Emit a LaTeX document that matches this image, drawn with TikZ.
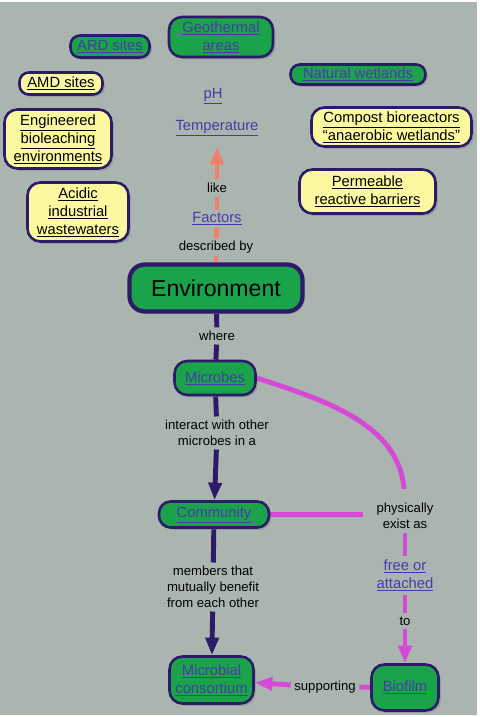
\documentclass[tikz,border=0pt]{standalone}
\usepackage{fontspec}
\setmainfont{Liberation Sans}
\usetikzlibrary{arrows.meta,shadows}
\pgfdeclarelayer{bg}
\pgfsetlayers{bg,main}
\definecolor{canvas}{RGB}{170,181,176}
\definecolor{leaf}{RGB}{26,163,74}
\definecolor{ink}{RGB}{43,27,105}
\definecolor{lemon}{RGB}{252,248,160}
\definecolor{linkblue}{RGB}{72,58,170}
\definecolor{orchid}{RGB}{214,72,214}
\definecolor{salmon}{RGB}{240,128,110}
\newcommand{\lnk}[1]{\underline{#1}}
\tikzset{
    every node/.style={font=\fontsize{12.6}{15.3}\selectfont, align=center}
}
\tikzset{
    box/.style={draw=ink, line width=2.2pt, rounded corners=11pt, inner sep=1pt,
        drop shadow={shadow xshift=2pt, shadow yshift=-2pt, opacity=.4}},
    pill/.style={rounded corners=8pt},
    gbox/.style={box, fill=leaf, text=linkblue},
    ybox/.style={box, fill=lemon, text=black},
    link/.style={text=linkblue},
    lbl/.style={font=\fontsize{11.2}{13.6}\selectfont, inner sep=3pt},
    navyline/.style={draw=ink, line width=4.2pt},
    pinkline/.style={draw=orchid, line width=4.2pt},
    salmonline/.style={draw=salmon, line width=4.2pt},
    headed/.style={-{Triangle[length=15pt,width=11pt]}}
}

\begin{document}
\begin{tikzpicture}[x=0.03cm, y=-0.03cm]
    \useasboundingbox (0,0) rectangle (480,717);

    \node (geo) at (221,37) [gbox, minimum width=3.12cm, minimum height=1.2cm] {\lnk{Geothermal}\\\lnk{areas}};
    \node (ard) at (110,46.5) [gbox, pill, minimum width=2.37cm, minimum height=0.66cm] {\lnk{ARD sites}};
    \node (amd) at (61,83.5) [ybox, pill, minimum width=2.49cm, minimum height=0.66cm] {\lnk{AMD sites}};
    \node (natural) at (358,74.5) [gbox, pill, minimum width=4.05cm, minimum height=0.6cm] {\lnk{Natural wetlands}};
    \node (eng) at (58,139) [ybox, minimum width=3.21cm, minimum height=1.77cm] {\lnk{Engineered}\\\lnk{bioleaching}\\\lnk{environments}};
    \node (compost) at (391.5,127) [ybox, minimum width=4.8cm, minimum height=1.17cm] {\lnk{Compost bioreactors}\\\lnk{``anaerobic wetlands''}};
    \node (acidic) at (78,212) [ybox, minimum width=3.03cm, minimum height=1.77cm] {\lnk{Acidic}\\\lnk{industrial}\\\lnk{wastewaters}};
    \node (perm) at (367.5,191.5) [ybox, minimum width=4.08cm, minimum height=1.32cm] {\lnk{Permeable}\\\lnk{reactive barriers}};

    \node (ph) at (213,96) [link] {\lnk{pH}};
    \node (temp) at (217,128) [link] {\lnk{Temperature}};
    \node (like) at (217,188) [lbl] {like};
    \node (factors) at (217,219) [link, inner sep=2pt] {\lnk{Factors}};
    \node (described) at (216,247) [lbl, inner sep=2pt] {described by};

    \node (env) at (216,288) [box, fill=leaf, line width=3.6pt, rounded corners=13pt, minimum width=5.19cm, minimum height=1.41cm,
        font=\fontsize{19.7}{22}\selectfont] {Environment};
    \node (where) at (217,336) [lbl] {where};
    \node (microbes) at (215,378) [gbox, minimum width=2.43cm, minimum height=1.02cm] {\lnk{Microbes}};
    \node (interact) at (217,433) [lbl] {interact with other\\microbes in a};
    \node (community) at (214,514.5) [gbox, pill, rounded corners=10pt, minimum width=3.3cm, minimum height=0.78cm] {\lnk{Community}};
    \node (members) at (213,587) [lbl] {members that\\mutually benefit\\from each other};
    \node (consortium) at (211.5,680) [gbox, minimum width=2.52cm, minimum height=1.41cm] {\lnk{Microbial}\\\lnk{consortium}};

    \node (phys) at (405,516) [lbl] {physically\\exist as};
    \node (freeatt) at (405,575.5) [link] {\lnk{free or}\\\lnk{attached}};
    \node (to) at (405,621) [lbl] {to};
    \node (biofilm) at (405,687.5) [gbox, minimum width=2.01cm, minimum height=1.38cm] {\lnk{Biofilm}};
    \node (supporting) at (325,687) [lbl] {supporting};

    \begin{pgfonlayer}{bg}
        \fill[white] (0,0) rectangle (480,717);
        \fill[canvas] (0,2) rectangle (477,715);
        \draw (env) edge[salmonline] (described);
        \draw (described) edge[salmonline] (factors);
        \draw (factors) edge[salmonline] (like);
        \draw (like) edge[salmonline, headed, shorten >=6pt] (temp);
        \draw (env) edge[navyline] (where);
        \draw (where) edge[navyline] (microbes);
        \draw (microbes) edge[navyline] (interact);
        \draw (interact) edge[navyline, headed] (community);
        \draw (community) edge[navyline] (members);
        \draw (members) edge[navyline, headed] (consortium);
        \draw (microbes.east) edge[pinkline, out=-18, in=95, shorten >=9pt] (phys.north);
        \draw (community.east) edge[pinkline, shorten >=8pt] (phys.west |- community.east);
        \draw (phys) edge[pinkline] (freeatt);
        \draw (freeatt) edge[pinkline] (to);
        \draw (to) edge[pinkline, headed] (biofilm);
        \draw (biofilm) edge[pinkline] (supporting);
        \draw (supporting) edge[pinkline, headed] (consortium);
    \end{pgfonlayer}
\end{tikzpicture}
\end{document}
